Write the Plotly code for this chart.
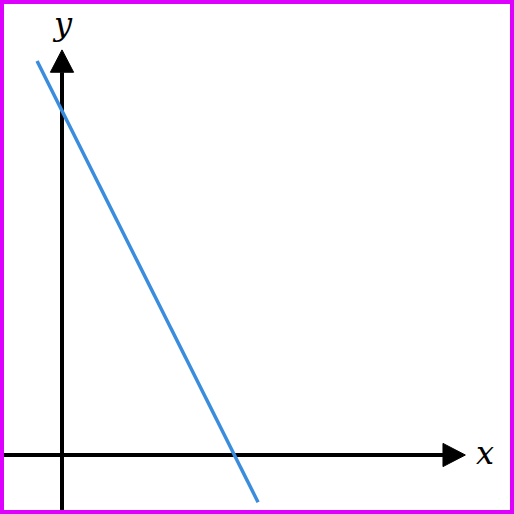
import plotly.graph_objects as go

# line (axis units: x-intercept 2, y-intercept 4)
line_x = [-0.29, 2.28]
line_y = [4.58, -0.55]

# axes extents and labels
x_axis_x = [-0.72, 4.43]
y_axis_y = [-0.69, 4.45]
arrow_len = 0.26
arrow_half = 0.135
axis_labels = ["x", "y"]

fig = go.Figure()

# axes
fig.add_trace(go.Scatter(x=x_axis_x, y=[0, 0], mode="lines",
                         line=dict(color="black", width=4), hoverinfo="skip"))
fig.add_trace(go.Scatter(x=[0, 0], y=y_axis_y, mode="lines",
                         line=dict(color="black", width=4), hoverinfo="skip"))

# arrow heads
xe = x_axis_x[1]
ye = y_axis_y[1]
fig.add_trace(go.Scatter(x=[xe, xe + arrow_len, xe, xe], y=[-arrow_half, 0, arrow_half, -arrow_half],
                         fill="toself", fillcolor="black", mode="lines",
                         line=dict(color="black", width=1), hoverinfo="skip"))
fig.add_trace(go.Scatter(x=[-arrow_half, 0, arrow_half, -arrow_half], y=[ye, ye + arrow_len, ye, ye],
                         fill="toself", fillcolor="black", mode="lines",
                         line=dict(color="black", width=1), hoverinfo="skip"))

# the line
fig.add_trace(go.Scatter(x=line_x, y=line_y, mode="lines",
                         line=dict(color="#3a8ddd", width=3.5)))

fig.add_annotation(x=xe + arrow_len + 0.1, y=0.02, text="<i>" + axis_labels[0] + "</i>",
                   showarrow=False, xanchor="left",
                   font=dict(family="DejaVu Serif", size=32, color="black"))
fig.add_annotation(x=0, y=ye + arrow_len + 0.3, text="<i>" + axis_labels[1] + "</i>",
                   showarrow=False,
                   font=dict(family="DejaVu Serif", size=32, color="black"))

# magenta frame
fig.add_shape(type="rect", xref="paper", yref="paper", x0=0, y0=0, x1=1, y1=1,
              line=dict(color="#dd00ff", width=8))

fig.update_xaxes(range=[-0.721, 5.256], visible=False, fixedrange=True)
fig.update_yaxes(range=[-0.686, 5.29], visible=False, fixedrange=True)
fig.update_layout(width=514, height=514, margin=dict(l=0, r=0, t=0, b=0),
                  plot_bgcolor="white", paper_bgcolor="white", showlegend=False)

fig.write_html("out.html", post_script="document.body.style.margin='0';",
               config={"displayModeBar": False})
